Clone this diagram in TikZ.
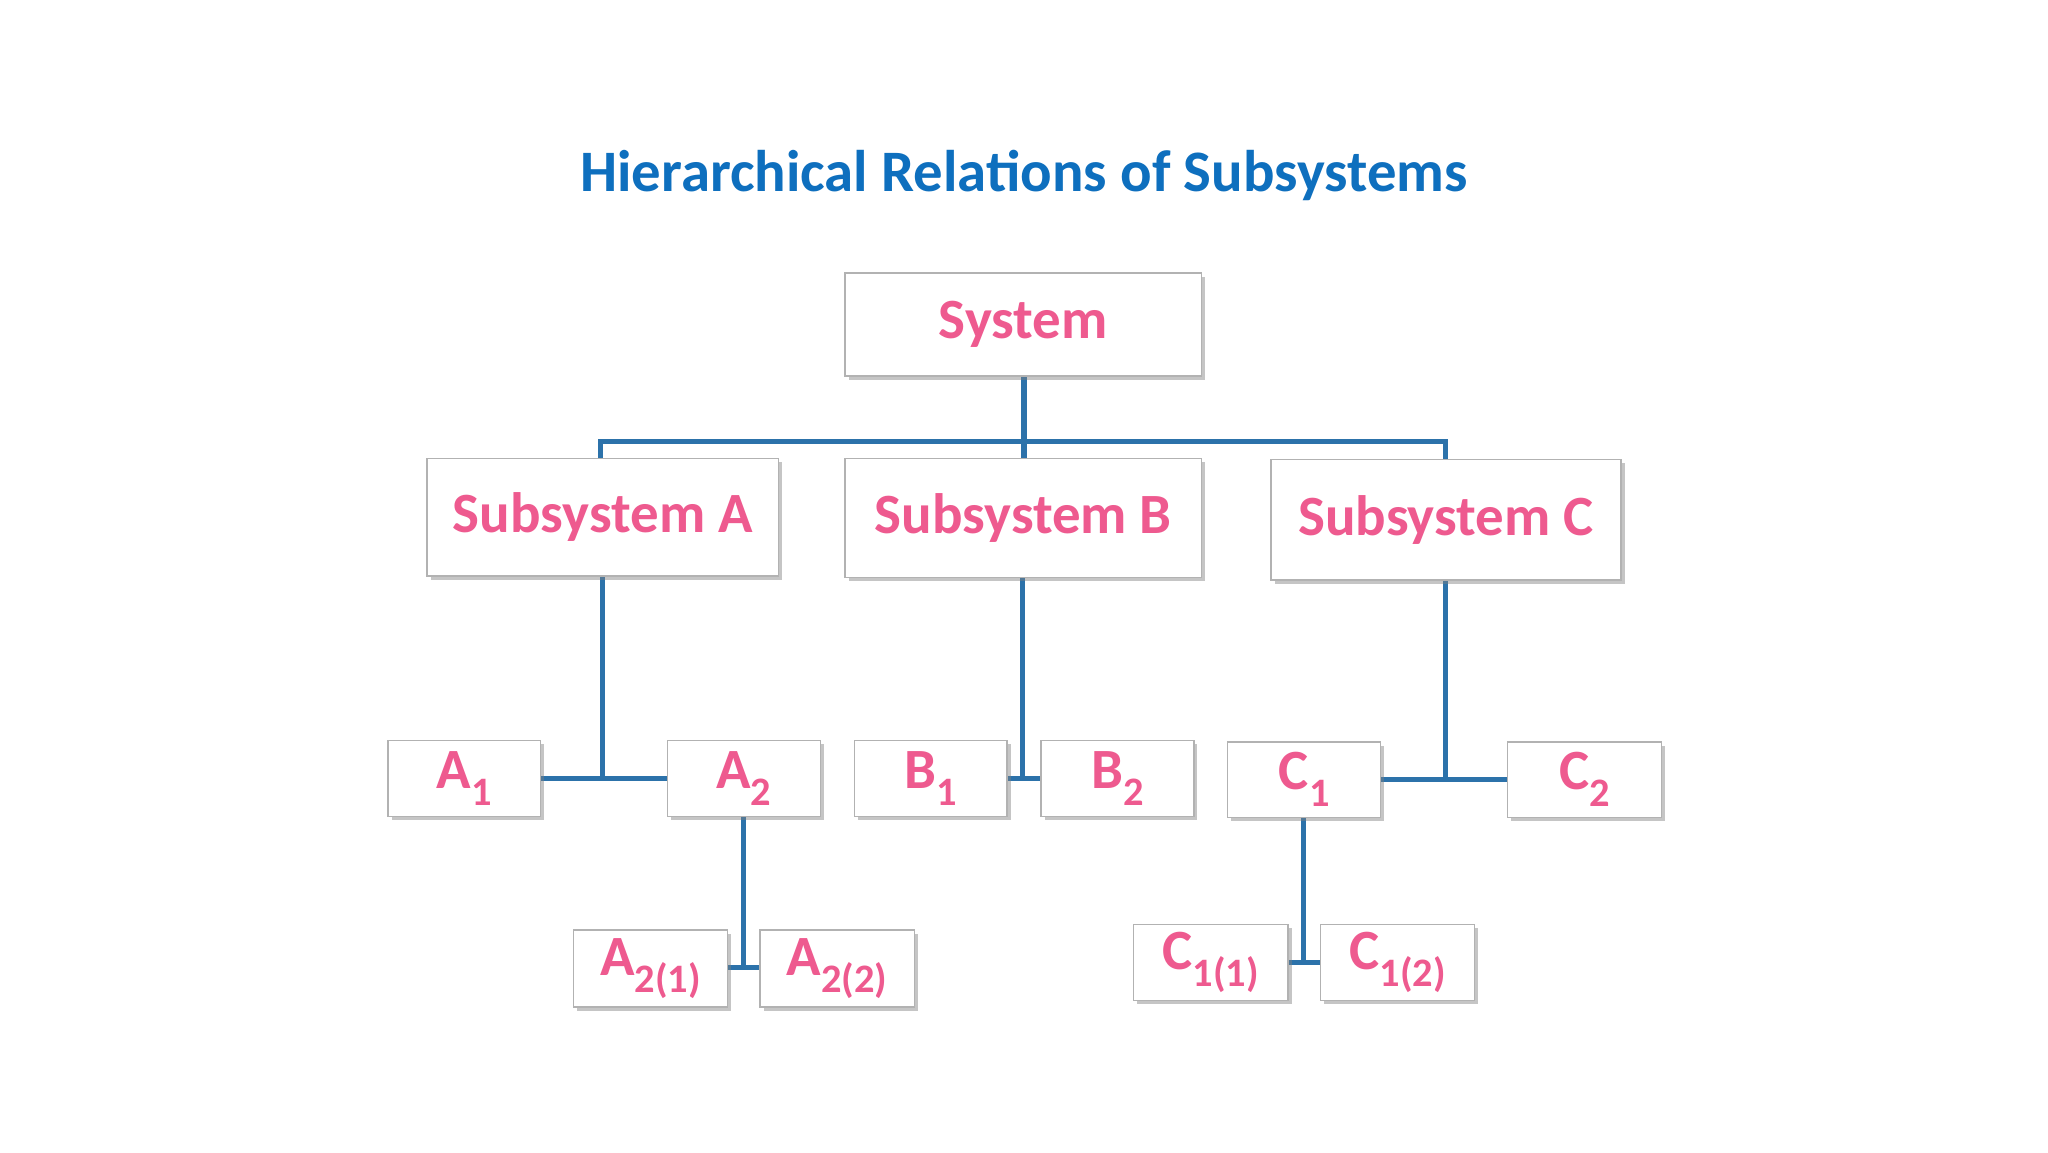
\documentclass[tikz,border=0pt]{standalone}
\usepackage{fontspec}
\setmainfont{Carlito}
\usetikzlibrary{shadows}
\definecolor{pk}{HTML}{EE5A8F}
\definecolor{ln}{HTML}{2C72AA}
\definecolor{tb}{HTML}{0E6FBE}
\newcommand\sbx[1]{\raisebox{-0.3em}{\fontsize{44}{44}\selectfont #1}}
\begin{document}
\begin{tikzpicture}[x=0.05cm,y=-0.05cm,
 bx/.style={draw=black!30,line width=1.5pt,fill=white,drop shadow={shadow xshift=4pt,shadow yshift=-4pt,opacity=0.45},
   text=pk,font=\bfseries\fontsize{62}{66}\selectfont,inner sep=0pt},
 cn/.style={ln,line width=5.5pt}]
\useasboundingbox (0,0) rectangle (1568,882);
\fill[white] (0,0) rectangle (1568,882);
\node[text=tb,font=\bfseries\fontsize{64}{68}\selectfont] (t) at (784,134) {Hierarchical Relations of Subsystems};
\def\bb(#1,#2,#3,#4,#5,#6){\node[bx,minimum width={(#3-#2)*0.05cm},minimum height={(#5-#4)*0.05cm}] (#1) at ({(#2+#3)/2},{(#4+#5)/2}) {#6};}
\coordinate (j) at (784,338);
\draw[cn] (784,288) -- (j);
\draw[cn] (460,352) -- (460,338) -- (1107,338) -- (1107,352);
\draw[cn] (784,338) -- (784,352);
\draw[cn] (461,441) -- (461,596);
\draw[cn] (414,596) -- (511,596);
\draw[cn] (783,442) -- (783,596);
\draw[cn] (771,596) -- (797,596);
\draw[cn] (1107,444) -- (1107,597);
\draw[cn] (1057,597) -- (1154,597);
\draw[cn] (569,625) -- (569,741);
\draw[cn] (557,741) -- (582,741);
\draw[cn] (998,626) -- (998,737);
\draw[cn] (986,737) -- (1011,737);
\bb(sys,647,920,209,288,System)
\bb(sa,327,596,351,441,Subsystem A)
\bb(sb,647,920,351,442,Subsystem B)
\bb(sc,973,1241,352,444,Subsystem C)
\bb(a1,297,414,567,625,A\sbx{1})
\bb(a2,511,628,567,625,A\sbx{2})
\bb(b1,654,771,567,625,B\sbx{1})
\bb(b2,797,914,567,625,B\sbx{2})
\bb(c1,940,1057,568,626,C\sbx{1})
\bb(c2,1154,1272,568,626,C\sbx{2})
\bb(a21,439,557,712,771,A\sbx{2(1)})
\bb(a22,582,700,712,771,A\sbx{2(2)})
\bb(c11,868,986,708,766,C\sbx{1(1)})
\bb(c12,1011,1129,708,766,C\sbx{1(2)})
\end{tikzpicture}
\end{document}
